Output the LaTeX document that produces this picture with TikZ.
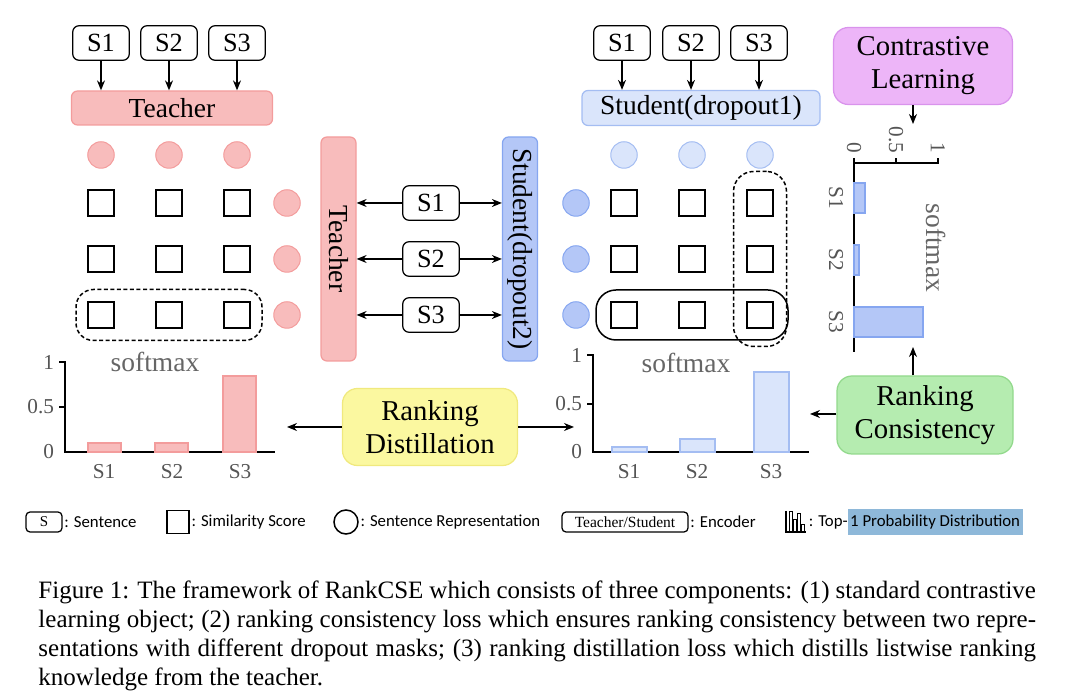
\documentclass[tikz,border=0pt]{standalone}
\usepackage{fontspec}
\setmainfont{Liberation Serif}
\newfontfamily\legendfont{Carlito}
\usetikzlibrary{positioning,fit,arrows.meta}

\tikzset{
    sent/.style={draw, rounded corners=2.5pt, line width=0.5pt, minimum width=22.6pt, minimum height=13.8pt, inner sep=0pt, font=\fontsize{10.5}{12}\selectfont},
    simbox/.style={draw, line width=0.8pt, minimum size=10.4pt, inner sep=0pt},
    repdot/.style={circle, minimum size=10.6pt, inner sep=0pt, line width=0.4pt},
    encoder/.style={rounded corners=2.4pt, line width=0.5pt, inner sep=0pt, font=\fontsize{11}{13}\selectfont},
    loss/.style={rounded corners=6pt, line width=0.5pt, align=center, inner sep=0pt, font=\fontsize{11.5}{13.2}\selectfont},
    arr/.style={-{Stealth[length=4pt,width=3.2pt]}, line width=0.5pt},
    group/.style={draw, line width=0.6pt, rounded corners=7pt},
    tick/.style={text=tickgray, font=\fontsize{8.5}{10}\selectfont, inner sep=1pt},
    smax/.style={text=smaxgray, font=\fontsize{11}{13}\selectfont, inner sep=1pt},
    legend/.style={font=\legendfont\fontsize{6.7}{8}\selectfont, inner sep=0.5pt},
}

\begin{document}
\begin{tikzpicture}[x=0.4pt,y=-0.4pt]
    \definecolor{pinkfill}{HTML}{F8BCBC}
    \definecolor{pinkline}{HTML}{F39C9C}
    \definecolor{bluedark}{HTML}{B4C7F7}
    \definecolor{bluedline}{HTML}{86A6F0}
    \definecolor{bluelight}{HTML}{DAE5FB}
    \definecolor{bluelline}{HTML}{A4BDF2}
    \definecolor{clfill}{HTML}{EDB5F8}
    \definecolor{clline}{HTML}{D993EC}
    \definecolor{rcfill}{HTML}{B5ECB0}
    \definecolor{rcline}{HTML}{92D98C}
    \definecolor{rdfill}{HTML}{FBF8A0}
    \definecolor{rdline}{HTML}{F0E97E}
    \definecolor{tickgray}{HTML}{555555}
    \definecolor{smaxgray}{HTML}{666666}
    \definecolor{hlblue}{HTML}{8EB8D9}
    %\draw[help lines, step=50] (0,0) grid (1067,697);
    \useasboundingbox (0,0) rectangle (1067,697);

    % teacher side
    \foreach \i/\x in {1/101,2/169,3/237} {
        \node[sent] (ts\i) at (\x,43) {S\i};
    }
    \node[encoder, fill=pinkfill, draw=pinkline, minimum width=80.4pt, minimum height=13.6pt] (teach) at (172,108) {Teacher};
    \foreach \i in {1,2,3} \draw[arr] (ts\i) -- (ts\i |- teach.north);

    \foreach \c/\x in {1/101,2/169,3/237} {
        \node[repdot, fill=pinkfill, draw=pinkline] (tr\c) at (\x,155) {};
        \foreach \r/\y in {1/203,2/259,3/315}
            \node[simbox] (tq\r\c) at (\x,\y) {};
    }
    \foreach \r/\y in {1/203,2/259,3/315}
        \node[repdot, fill=pinkfill, draw=pinkline] (tc\r) at (287,\y) {};
    \node[group, dashed, dash pattern=on 1.6pt off 1pt, inner xsep=4.4pt, inner ysep=4.6pt, fit=(tq31)(tq33)] (trow) {};

    % encoders in the middle
    \node[encoder, fill=pinkfill, draw=pinkline, rotate=-90, minimum width=89.6pt, minimum height=14pt] (tv) at (338.5,249) {Teacher};
    \node[encoder, fill=bluedark, draw=bluedline, rotate=-90, minimum width=89.6pt, minimum height=14pt] (sv) at (520,249) {Student(dropout2)};
    \foreach \r/\y in {1/203,2/259,3/315} {
        \node[sent] (ms\r) at (431,\y) {S\r};
        \draw[arr] (ms\r) -- (ms\r -| tv.north);
        \draw[arr] (ms\r) -- (ms\r -| sv.south);
    }

    % student side
    \foreach \i/\x in {1/622,2/691,3/759} {
        \node[sent] (ss\i) at (\x,43) {S\i};
    }
    \node[encoder, fill=bluelight, draw=bluelline, minimum width=95.2pt, minimum height=14pt] (stud) at (701,108) {Student(dropout1)};
    \foreach \i in {1,2,3} \draw[arr] (ss\i) -- (ss\i |- stud.north);

    \foreach \c/\x in {1/624,2/692,3/760} {
        \node[repdot, fill=bluelight, draw=bluelline] (sr\c) at (\x,155) {};
        \foreach \r/\y in {1/203,2/259,3/315}
            \node[simbox] (sq\r\c) at (\x,\y) {};
    }
    \foreach \r/\y in {1/203,2/259,3/315}
        \node[repdot, fill=bluedark, draw=bluedline] (sc\r) at (576,\y) {};
    \node[group, rounded corners=8pt, inner xsep=5.6pt, inner ysep=4.4pt, fit=(sq31)(sq33)] (srow) {};
    \node[group, dashed, dash pattern=on 1.6pt off 1pt, rounded corners=8pt, inner xsep=5pt, inner ysep=7pt, fit=(sq13)(sq33)] (scol) {};

    % teacher distribution
    \draw[line width=0.6pt] (59,362) -- (65,362) -- (65,452) -- (275,452);
    \draw[line width=0.6pt] (59,407) -- (65,407);
    \node[tick, anchor=east] (tl1) at (57,362) {1};
    \node[tick, anchor=east] (tl2) at (57,407) {0.5};
    \node[tick, anchor=east] (tl3) at (57,452) {0};
    \foreach \x/\h in {88/443,155/443,223/376}
        \draw[fill=pinkfill, draw=pinkline, line width=0.5pt] (\x,452) rectangle ({\x+33},\h);
    \foreach \i/\x in {1/104,2/172,3/240}
        \node[tick] (tx\i) at (\x,472) {S\i};
    \node[smax] (tsm) at (155,362) {softmax};

    % student distribution
    \draw[line width=0.6pt] (587,355) -- (593,355) -- (593,452) -- (809,452);
    \draw[line width=0.6pt] (587,404) -- (593,404);
    \node[tick, anchor=east] (sl1) at (585,355) {1};
    \node[tick, anchor=east] (sl2) at (585,404) {0.5};
    \node[tick, anchor=east] (sl3) at (585,452) {0};
    \foreach \x/\h in {612/447,680/439,754/372}
        \draw[fill=bluelight, draw=bluelline, line width=0.5pt] (\x,452) rectangle ({\x+35},\h);
    \foreach \i/\x in {1/629,2/697,3/771}
        \node[tick] (sx\i) at (\x,472) {S\i};
    \node[smax] (ssm) at (686,363) {softmax};

    % contrastive distribution
    \draw[line width=0.6pt] (854,158) -- (854,352);
    \draw[line width=0.6pt] (854,163) -- (938,163) -- (938,158);
    \draw[line width=0.6pt] (896,163) -- (896,158);
    \node[tick, rotate=-90, anchor=east] (cl1) at (854,156) {0};
    \node[tick, rotate=-90, anchor=east] (cl2) at (896,156) {0.5};
    \node[tick, rotate=-90, anchor=east] (cl3) at (938,156) {1};
    \foreach \y/\w in {183/865,245/859,307/923}
        \draw[fill=bluedark, draw=bluedline, line width=0.5pt] (854,\y) rectangle (\w,{\y+30});
    \foreach \i/\y in {1/198,2/260,3/322}
        \node[tick, rotate=-90] (cx\i) at (836,\y) {S\i};
    \node[smax, rotate=-90] (csm) at (936,248) {softmax};

    % losses
    \node[loss, fill=clfill, draw=clline, minimum width=71.6pt, minimum height=30.8pt] (cl) at (923,66) {Contrastive\\Learning};
    \node[loss, fill=rcfill, draw=rcline, minimum width=70.4pt, minimum height=31.2pt] (rc) at (925,415) {Ranking\\Consistency};
    \node[loss, fill=rdfill, draw=rdline, minimum width=70pt, minimum height=30.8pt] (rd) at (430,427) {Ranking\\Distillation};

    \coordinate (clend) at (913,124);
    \coordinate (rcend) at (913,347);
    \coordinate (rcleft) at (810,414);
    \coordinate (rdleft) at (287,427);
    \coordinate (rdright) at (574,427);
    \draw[arr] (cl.south -| clend) -- (clend);
    \draw[arr] (rc.north -| rcend) -- (rcend);
    \draw[arr] (rc.west |- rcleft) -- (rcleft);
    \draw[arr] (rd.west) -- (rdleft);
    \draw[arr] (rd.east) -- (rdright);

    % legend
    \node[sent, minimum width=14.4pt, minimum height=8pt, rounded corners=1.6pt, font=\fontsize{6}{7}\selectfont] (lgs) at (44,522) {S};
    \node[legend, anchor=west] (lgst) at (lgs.east) {: Sentence};
    \node[simbox, line width=0.6pt, minimum width=8.8pt, minimum height=9.2pt] (lgq) at (178,522) {};
    \node[legend, anchor=west] (lgqt) at (lgq.east) {: Similarity Score};
    \node[draw, circle, line width=0.6pt, minimum size=9.6pt, inner sep=0pt] (lgc) at (346,522) {};
    \node[legend, anchor=west] (lgct) at (lgc.east) {: Sentence Representation};
    \node[sent, minimum width=50.4pt, minimum height=8pt, rounded corners=1.6pt, font=\fontsize{6.2}{7}\selectfont] (lge) at (625,522) {Teacher/Student};
    \node[legend, anchor=west] (lget) at (lge.east) {: Encoder};
    \draw[line width=0.5pt] (786,511) -- (786,532) -- (806,532);
    \foreach \x/\h in {789/512,793/520,797/514,801/525}
        \draw[line width=0.4pt] (\x,532) rectangle ({\x+3},\h);
    \coordinate (lgh) at (807,522);
    \node[legend, anchor=west] (lght) at (lgh) {: Top-{\setlength{\fboxsep}{1pt}\colorbox{hlblue}{\rule[-2.4pt]{0pt}{8.4pt}1 Probability Distribution}}};

    % caption
    \node[anchor=north west, inner sep=0pt, text width=399pt, align=justify, font=\fontsize{10}{11.6}\selectfont] (cap) at (38,580) {Figure 1: The framework of RankCSE which consists of three components: (1) standard contrastive\linebreak learning object; (2) ranking consistency loss which ensures ranking consistency between two repre-\linebreak sentations with different dropout masks; (3) ranking distillation loss which distills listwise ranking\linebreak knowledge from the teacher.};
\end{tikzpicture}
\end{document}
